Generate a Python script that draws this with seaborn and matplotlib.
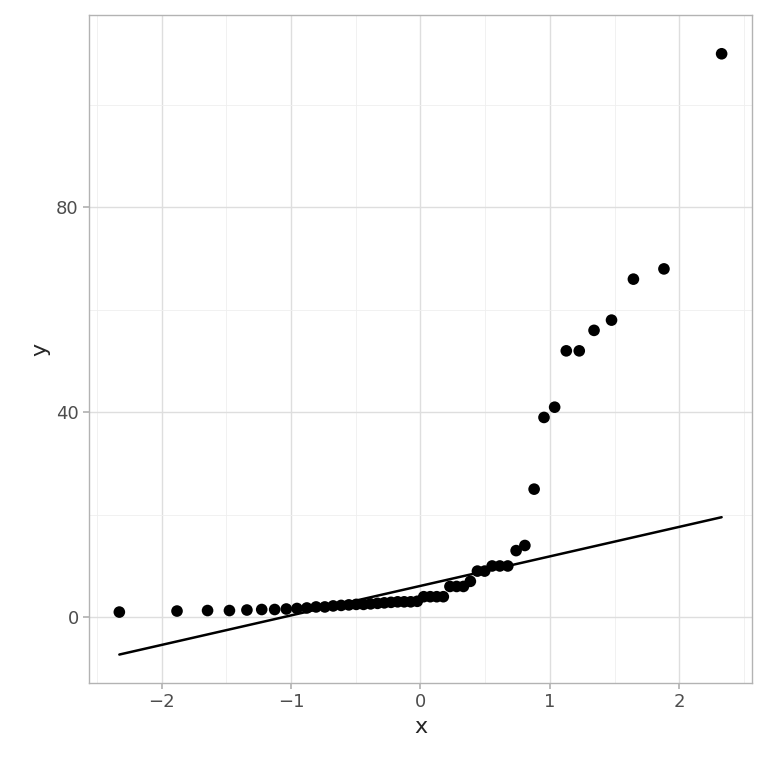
import matplotlib
matplotlib.use("Agg")
from matplotlib import pyplot as plt
import seaborn as sns
import numpy as np
from statistics import NormalDist

# sorted sample values
y = [1.0, 1.2, 1.3, 1.3, 1.4, 1.5, 1.5, 1.6, 1.7, 1.8,
     2.0, 2.0, 2.2, 2.3, 2.4, 2.5, 2.5, 2.6, 2.7, 2.8,
     2.9, 3.0, 3.0, 3.0, 3.1, 4, 4, 4, 4, 6,
     6, 6, 7, 9, 9, 10, 10, 10, 13, 14,
     25, 39, 41, 52, 52, 56, 58, 66, 68, 110]

n = len(y)
nd = NormalDist()
x = np.array([nd.inv_cdf((i + 0.5) / n) for i in range(n)])
y = np.array(y)

# qq line through the quartiles
q1, q3 = np.quantile(y, [0.25, 0.75])
t1, t3 = nd.inv_cdf(0.25), nd.inv_cdf(0.75)
slope = (q3 - q1) / (t3 - t1)
intercept = q1 - slope * t1

sns.set_theme(style="white")
fig, ax = plt.subplots(figsize=(7.68, 7.68), dpi=100)
fig.subplots_adjust(left=0.116, right=0.979, top=0.980, bottom=0.111)

ax.plot(x, intercept + slope * x, color="black", lw=1.8, zorder=2)
sns.scatterplot(x=x, y=y, color="black", s=70, edgecolor="none", ax=ax, zorder=3)

ax.set_xlim(-2.56, 2.56)
ax.set_ylim(-12.8, 117.5)
ax.set_xticks([-2, -1, 0, 1, 2])
ax.set_yticks([0, 40, 80])
ax.set_xticks(np.arange(-2.5, 2.6, 1.0), minor=True)
ax.set_yticks([20, 60, 100], minor=True)
ax.grid(True, which="major", color="#DEDEDE", lw=1.0)
ax.grid(True, which="minor", color="#EFEFEF", lw=0.6)
ax.set_axisbelow(True)
for s in ax.spines.values():
    s.set_color("#B3B3B3")
    s.set_linewidth(1.0)
ax.tick_params(which="major", length=4, color="#B3B3B3", labelsize=13, labelcolor="#4D4D4D", bottom=True, left=True)
ax.tick_params(which="minor", length=0)
ax.set_xlabel("x", fontsize=16)
ax.set_ylabel("y", fontsize=16)

fig.savefig("out.png", dpi=100)
